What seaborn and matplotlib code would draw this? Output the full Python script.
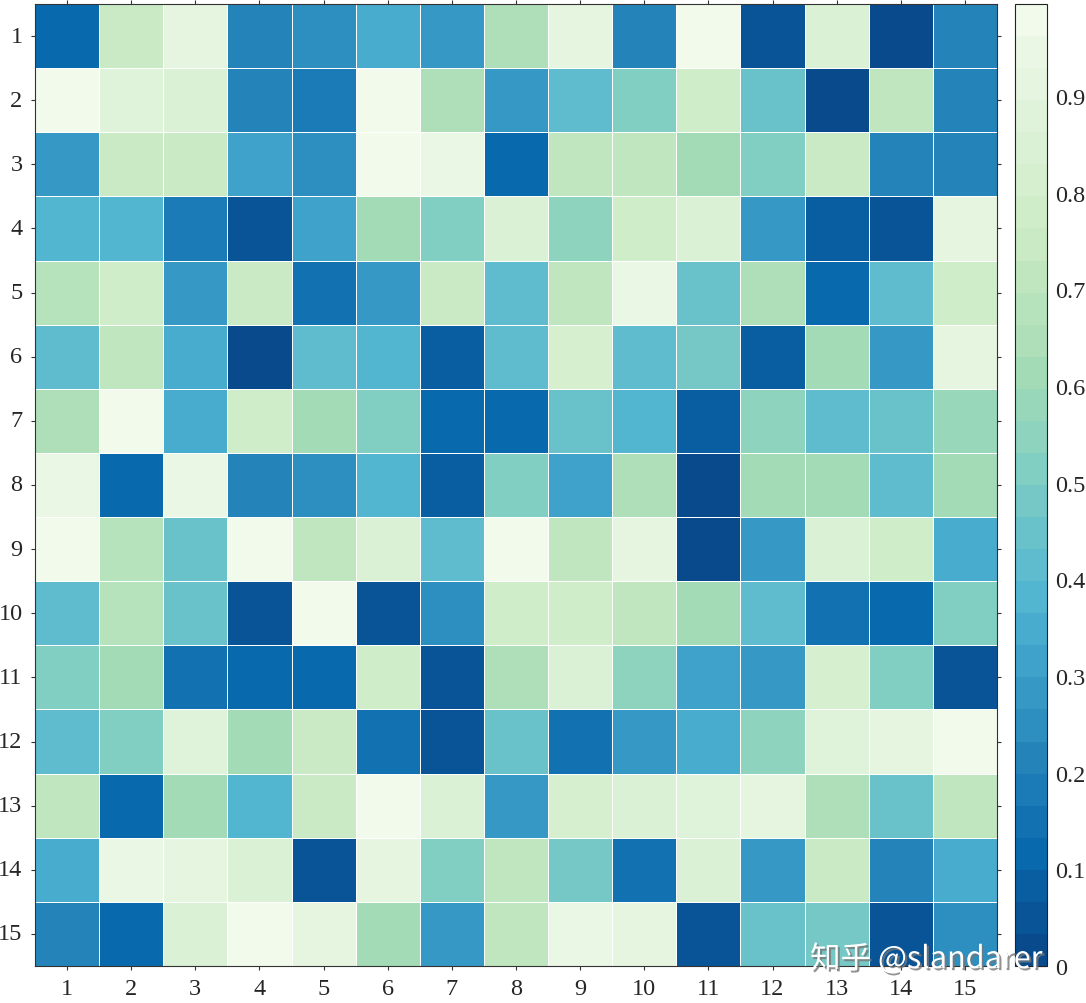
import numpy as np
import pandas as pd
import matplotlib
matplotlib.use("Agg")
import matplotlib.pyplot as plt
import matplotlib.patheffects as pe
from matplotlib.colors import ListedColormap
import seaborn as sns

row_labels = [str(i) for i in range(1, 16)]
col_labels = [str(i) for i in range(1, 16)]

row01 = [0.10, 0.75, 0.92, 0.20, 0.24, 0.36, 0.27, 0.66, 0.92, 0.20, 0.98, 0.05, 0.85, 0.02, 0.20]
row02 = [0.97, 0.87, 0.86, 0.20, 0.19, 0.97, 0.65, 0.27, 0.40, 0.50, 0.78, 0.44, 0.02, 0.70, 0.22]
row03 = [0.27, 0.74, 0.76, 0.31, 0.26, 0.98, 0.95, 0.12, 0.70, 0.72, 0.60, 0.50, 0.74, 0.20, 0.23]
row04 = [0.37, 0.37, 0.18, 0.04, 0.30, 0.60, 0.50, 0.86, 0.56, 0.78, 0.85, 0.27, 0.07, 0.05, 0.91]
row05 = [0.67, 0.78, 0.27, 0.74, 0.15, 0.27, 0.74, 0.43, 0.70, 0.95, 0.46, 0.66, 0.10, 0.43, 0.78]
row06 = [0.43, 0.72, 0.36, 0.02, 0.40, 0.37, 0.09, 0.43, 0.80, 0.43, 0.47, 0.09, 0.60, 0.27, 0.90]
row07 = [0.64, 0.98, 0.35, 0.78, 0.63, 0.50, 0.13, 0.12, 0.46, 0.37, 0.07, 0.55, 0.40, 0.46, 0.59]
row08 = [0.95, 0.13, 0.96, 0.20, 0.24, 0.37, 0.07, 0.52, 0.33, 0.66, 0.01, 0.60, 0.60, 0.43, 0.60]
row09 = [0.97, 0.68, 0.45, 0.98, 0.71, 0.85, 0.40, 0.99, 0.71, 0.90, 0.01, 0.29, 0.84, 0.78, 0.36]
row10 = [0.40, 0.68, 0.44, 0.05, 0.97, 0.05, 0.24, 0.78, 0.78, 0.72, 0.60, 0.40, 0.16, 0.12, 0.50]
row11 = [0.50, 0.60, 0.15, 0.10, 0.10, 0.79, 0.06, 0.64, 0.86, 0.56, 0.33, 0.28, 0.82, 0.51, 0.04]
row12 = [0.43, 0.53, 0.87, 0.60, 0.74, 0.15, 0.06, 0.46, 0.15, 0.27, 0.34, 0.54, 0.87, 0.90, 0.97]
row13 = [0.72, 0.10, 0.62, 0.37, 0.74, 0.97, 0.84, 0.28, 0.82, 0.85, 0.88, 0.91, 0.66, 0.44, 0.72]
row14 = [0.34, 0.96, 0.92, 0.85, 0.05, 0.92, 0.50, 0.70, 0.48, 0.16, 0.85, 0.28, 0.74, 0.20, 0.36]
row15 = [0.20, 0.12, 0.84, 0.97, 0.90, 0.62, 0.28, 0.70, 0.93, 0.92, 0.06, 0.44, 0.47, 0.04, 0.25]

values = [row01, row02, row03, row04, row05, row06, row07, row08, row09, row10,
          row11, row12, row13, row14, row15]
df = pd.DataFrame(values, index=row_labels, columns=col_labels)

cbar_ticks = [0, 0.1, 0.2, 0.3, 0.4, 0.5, 0.6, 0.7, 0.8, 0.9]
cbar_ticklabels = ["0", "0.1", "0.2", "0.3", "0.4", "0.5", "0.6", "0.7", "0.8", "0.9"]

sns.set_theme(style="white")
plt.rcParams["font.family"] = ["Liberation Serif", "DejaVu Serif"]

cmap = ListedColormap(sns.color_palette("GnBu_r", 30))

fig = plt.figure(figsize=(10.86, 10.04), dpi=100)
ax = fig.add_axes([35/1086, 1-967/1004, (997-35)/1086, (967-5)/1004])
cax = fig.add_axes([1015/1086, 1-967/1004, (1047-1015)/1086, (967-5)/1004])

sns.heatmap(df, ax=ax, cbar_ax=cax, cmap=cmap, vmin=0, vmax=0.995,
            linewidths=0.5, linecolor="white", square=False,
            cbar_kws={"ticks": cbar_ticks})

for s in ax.spines.values():
    s.set_visible(True)
    s.set_color("#333333")
    s.set_linewidth(0.8)

ax.tick_params(axis="both", which="both", direction="out", length=3, width=0.8,
               color="#333333", labelsize=17.5, labelcolor="#262626",
               top=True, right=True, left=True, bottom=True,
               labeltop=False, labelright=False, pad=6)
ax.set_xticklabels(col_labels, rotation=0)
ax.set_yticklabels(row_labels, rotation=0)
ax.set_xlabel("")
ax.set_ylabel("")

cax.set_yticklabels(cbar_ticklabels)
cax.tick_params(axis="y", direction="in", length=6, width=0.8, color="#222222",
                labelsize=17.5, labelcolor="#262626", right=True, left=False, pad=6)
cb = ax.collections[0].colorbar
cb.outline.set_visible(True)
cb.outline.set_edgecolor("#222222")
cb.outline.set_linewidth(0.8)

fig.text(810/1086, 1-960/1004, "知乎 @slandarer", fontsize=22, color="white",
         family=["Noto Sans CJK SC", "DejaVu Sans"], va="center", ha="left",
         path_effects=[pe.withSimplePatchShadow(offset=(1.5, -1.5), shadow_rgbFace="#777777", alpha=0.8)])

fig.savefig("out.png", dpi=100)
